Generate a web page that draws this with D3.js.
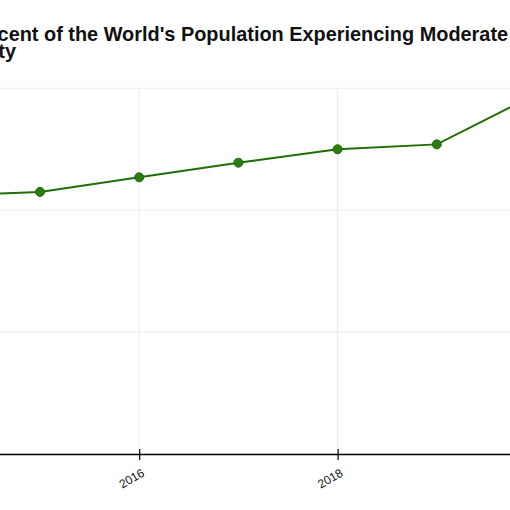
<!DOCTYPE html>
<html>
<head>
<meta charset="utf-8">
<script src="https://cdn.jsdelivr.net/npm/d3@7"></script>
<style>
  html, body { margin: 0; padding: 0; background: #fff; overflow: hidden; }
  svg { display: block; font-family: "Liberation Sans", Arial, sans-serif; }
</style>
</head>
<body>
<svg id="chart" width="510" height="510"></svg>
<script>
// data (share of world population, %)
var years = [2014, 2015, 2016, 2017, 2018, 2019, 2020, 2021, 2022];
var values = [21.2, 21.5, 22.7, 23.9, 25.0, 25.4, 29.5, 29.6, 29.6];
var xTicks = [2014, 2016, 2018, 2020, 2022];
var yTicks = [0, 10, 20, 30];
var titleLines = ["Percent of the World's Population Experiencing Moderate", "or Severe Food Insecurity"];

// the view only shows the middle of a wider figure, so the plot runs past both edges
var W = 510, H = 510;
var margin = {top: 88.3, right: -224.4, bottom: 56, left: -59.2};

var svg = d3.select("#chart");

var x = d3.scaleLinear()
  .domain(d3.extent(years))
  .range([margin.left, W - margin.right]);
var y = d3.scaleLinear()
  .domain([0, 30])
  .range([H - margin.bottom, margin.top]);

// grid
svg.append("g").selectAll("line")
  .data(yTicks.filter(d => d > 0))
  .enter().append("line")
    .attr("x1", x(2014)).attr("x2", x(2022))
    .attr("y1", d => y(d)).attr("y2", d => y(d))
    .attr("stroke", "#ebebeb").attr("stroke-width", 1);

svg.append("g").selectAll("line")
  .data(xTicks)
  .enter().append("line")
    .attr("x1", d => x(d)).attr("x2", d => x(d))
    .attr("y1", y(30)).attr("y2", y(0))
    .attr("stroke", "#ebebeb").attr("stroke-width", 1);

// x axis, ticks cross the line a little
var xAxis = d3.axisBottom(x)
  .tickValues(xTicks)
  .tickFormat(d3.format("d"))
  .tickSizeInner(6)
  .tickSizeOuter(0);

var gx = svg.append("g")
  .attr("transform", "translate(0," + y(0) + ")")
  .call(xAxis);
gx.select(".domain").attr("stroke", "#000").attr("stroke-width", 1.5);
gx.selectAll(".tick line")
  .attr("y1", -5)
  .attr("stroke", "#000").attr("stroke-width", 1.2);
gx.selectAll(".tick text")
  .attr("y", 0).attr("dy", 0)
  .attr("transform", "translate(5.7,21.3) rotate(-30)")
  .style("text-anchor", "end")
  .style("font-size", "12px")
  .style("fill", "#111");

// series
var pts = years.map((d, i) => [d, values[i]]);

svg.append("path")
  .datum(pts)
  .attr("fill", "none")
  .attr("stroke", "#1f6f06")
  .attr("stroke-width", 2)
  .attr("d", d3.line().x(d => x(d[0])).y(d => y(d[1])));

svg.append("g").selectAll("circle")
  .data(pts)
  .enter().append("circle")
    .attr("cx", d => x(d[0]))
    .attr("cy", d => y(d[1]))
    .attr("r", 4.5)
    .attr("fill", "#2b7d12")
    .attr("stroke", "#1f6a07")
    .attr("stroke-width", 1);

// title (also cut on the left)
svg.append("g").selectAll("text")
  .data(titleLines)
  .enter().append("text")
    .attr("x", (d, i) => i == 0 ? -34.5 : 16)
    .attr("y", (d, i) => 41 + i * 16.5)
    .attr("text-anchor", (d, i) => i == 0 ? "start" : "end")
    .style("font-size", "19.9px")
    .style("font-weight", "bold")
    .style("fill", "#111")
    .text(d => d);
</script>
</body>
</html>
